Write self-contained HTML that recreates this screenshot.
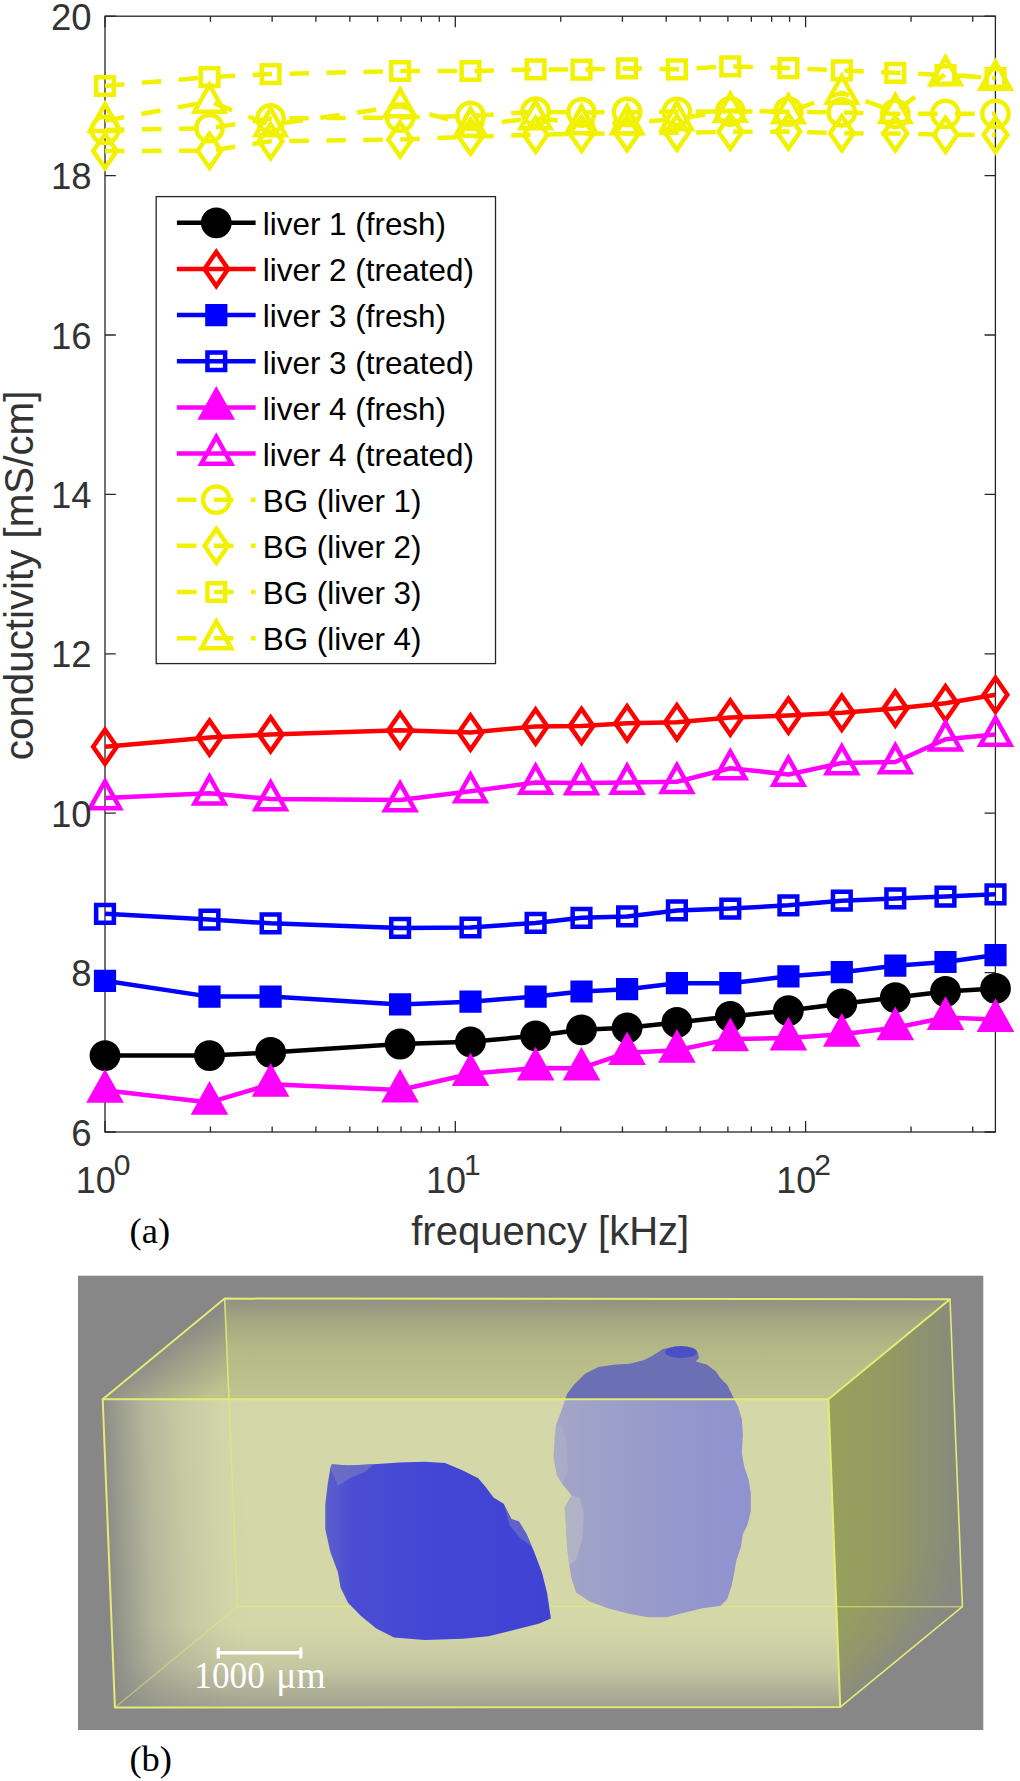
<!DOCTYPE html><html><head><meta charset="utf-8"><title>figure</title><style>html,body{margin:0;padding:0;background:#fff}svg{display:block}</style></head><body>
<svg width="1020" height="1781" viewBox="0 0 1020 1781">
<rect width="1020" height="1781" fill="#fff"/>
<g stroke="#262626" stroke-width="1.3" fill="none" stroke-linecap="square">
<rect x="105" y="16.2" width="890.4" height="1115.8"/>
<path d="M105,1132h10.8M995.4,1132h-10.8M105,972.6h10.8M995.4,972.6h-10.8M105,813.2h10.8M995.4,813.2h-10.8M105,653.8h10.8M995.4,653.8h-10.8M105,494.4h10.8M995.4,494.4h-10.8M105,335h10.8M995.4,335h-10.8M105,175.6h10.8M995.4,175.6h-10.8M105,16.2h10.8M995.4,16.2h-10.8M105,1132v-11M105,16.2v11M210.45,1132v-5.5M210.45,16.2v5.5M272.14,1132v-5.5M272.14,16.2v5.5M315.9,1132v-5.5M315.9,16.2v5.5M349.85,1132v-5.5M349.85,16.2v5.5M377.59,1132v-5.5M377.59,16.2v5.5M401.04,1132v-5.5M401.04,16.2v5.5M421.35,1132v-5.5M421.35,16.2v5.5M439.27,1132v-5.5M439.27,16.2v5.5M455.3,1132v-11M455.3,16.2v11M560.75,1132v-5.5M560.75,16.2v5.5M622.44,1132v-5.5M622.44,16.2v5.5M666.2,1132v-5.5M666.2,16.2v5.5M700.15,1132v-5.5M700.15,16.2v5.5M727.89,1132v-5.5M727.89,16.2v5.5M751.34,1132v-5.5M751.34,16.2v5.5M771.65,1132v-5.5M771.65,16.2v5.5M789.57,1132v-5.5M789.57,16.2v5.5M805.6,1132v-11M805.6,16.2v11M911.05,1132v-5.5M911.05,16.2v5.5M972.74,1132v-5.5M972.74,16.2v5.5" stroke-linecap="butt"/>
</g>
<g stroke="#000000" stroke-width="4.5">
<polyline points="105,1055.6 209.5,1055.6 270.6,1052.4 400.1,1044 470.5,1041.8 535.6,1035.8 581.5,1029.8 627.1,1027.8 676.9,1022.4 730.3,1016.5 788.4,1010.6 841.8,1003.8 895.3,997.6 945.5,991.5 995.5,988.4" fill="none" stroke-linejoin="round"/>
<g stroke-linejoin="miter"><circle cx="105" cy="1055.6" r="13.15" fill="#000000"/><circle cx="209.5" cy="1055.6" r="13.15" fill="#000000"/><circle cx="270.6" cy="1052.4" r="13.15" fill="#000000"/><circle cx="400.1" cy="1044" r="13.15" fill="#000000"/><circle cx="470.5" cy="1041.8" r="13.15" fill="#000000"/><circle cx="535.6" cy="1035.8" r="13.15" fill="#000000"/><circle cx="581.5" cy="1029.8" r="13.15" fill="#000000"/><circle cx="627.1" cy="1027.8" r="13.15" fill="#000000"/><circle cx="676.9" cy="1022.4" r="13.15" fill="#000000"/><circle cx="730.3" cy="1016.5" r="13.15" fill="#000000"/><circle cx="788.4" cy="1010.6" r="13.15" fill="#000000"/><circle cx="841.8" cy="1003.8" r="13.15" fill="#000000"/><circle cx="895.3" cy="997.6" r="13.15" fill="#000000"/><circle cx="945.5" cy="991.5" r="13.15" fill="#000000"/><circle cx="995.5" cy="988.4" r="13.15" fill="#000000"/></g>
</g>
<g stroke="#ff0000" stroke-width="4.5">
<polyline points="105,746.8 209.5,737.6 270.6,734.4 400.1,730.2 470.5,732.5 535.6,726.5 581.5,725.9 627.1,723.2 676.9,722.3 730.3,717.5 788.4,715.6 841.8,712.8 895.3,708.5 945.5,703.3 995.5,694.8" fill="none" stroke-linejoin="round"/>
<g stroke-linejoin="miter"><polygon points="105,729.8 116.8,746.8 105,763.8 93.2,746.8" fill="none"/><polygon points="209.5,720.6 221.3,737.6 209.5,754.6 197.7,737.6" fill="none"/><polygon points="270.6,717.4 282.4,734.4 270.6,751.4 258.8,734.4" fill="none"/><polygon points="400.1,713.2 411.9,730.2 400.1,747.2 388.3,730.2" fill="none"/><polygon points="470.5,715.5 482.3,732.5 470.5,749.5 458.7,732.5" fill="none"/><polygon points="535.6,709.5 547.4,726.5 535.6,743.5 523.8,726.5" fill="none"/><polygon points="581.5,708.9 593.3,725.9 581.5,742.9 569.7,725.9" fill="none"/><polygon points="627.1,706.2 638.9,723.2 627.1,740.2 615.3,723.2" fill="none"/><polygon points="676.9,705.3 688.7,722.3 676.9,739.3 665.1,722.3" fill="none"/><polygon points="730.3,700.5 742.1,717.5 730.3,734.5 718.5,717.5" fill="none"/><polygon points="788.4,698.6 800.2,715.6 788.4,732.6 776.6,715.6" fill="none"/><polygon points="841.8,695.8 853.6,712.8 841.8,729.8 830,712.8" fill="none"/><polygon points="895.3,691.5 907.1,708.5 895.3,725.5 883.5,708.5" fill="none"/><polygon points="945.5,686.3 957.3,703.3 945.5,720.3 933.7,703.3" fill="none"/><polygon points="995.5,677.8 1007.3,694.8 995.5,711.8 983.7,694.8" fill="none"/></g>
</g>
<g stroke="#0000ff" stroke-width="4.5">
<polyline points="105,980.8 209.5,996.6 270.6,996.6 400.1,1004.4 470.5,1001.7 535.6,996.6 581.5,991.5 627.1,989.2 676.9,983.2 730.3,983.2 788.4,976.3 841.8,972.2 895.3,965.7 945.5,962 995.5,955.1" fill="none" stroke-linejoin="round"/>
<g stroke-linejoin="miter"><polygon points="96.15,971.95 113.85,971.95 113.85,989.65 96.15,989.65" fill="#0000ff"/><polygon points="200.65,987.75 218.35,987.75 218.35,1005.45 200.65,1005.45" fill="#0000ff"/><polygon points="261.75,987.75 279.45,987.75 279.45,1005.45 261.75,1005.45" fill="#0000ff"/><polygon points="391.25,995.55 408.95,995.55 408.95,1013.25 391.25,1013.25" fill="#0000ff"/><polygon points="461.65,992.85 479.35,992.85 479.35,1010.55 461.65,1010.55" fill="#0000ff"/><polygon points="526.75,987.75 544.45,987.75 544.45,1005.45 526.75,1005.45" fill="#0000ff"/><polygon points="572.65,982.65 590.35,982.65 590.35,1000.35 572.65,1000.35" fill="#0000ff"/><polygon points="618.25,980.35 635.95,980.35 635.95,998.05 618.25,998.05" fill="#0000ff"/><polygon points="668.05,974.35 685.75,974.35 685.75,992.05 668.05,992.05" fill="#0000ff"/><polygon points="721.45,974.35 739.15,974.35 739.15,992.05 721.45,992.05" fill="#0000ff"/><polygon points="779.55,967.45 797.25,967.45 797.25,985.15 779.55,985.15" fill="#0000ff"/><polygon points="832.95,963.35 850.65,963.35 850.65,981.05 832.95,981.05" fill="#0000ff"/><polygon points="886.45,956.85 904.15,956.85 904.15,974.55 886.45,974.55" fill="#0000ff"/><polygon points="936.65,953.15 954.35,953.15 954.35,970.85 936.65,970.85" fill="#0000ff"/><polygon points="986.65,946.25 1004.35,946.25 1004.35,963.95 986.65,963.95" fill="#0000ff"/></g>
</g>
<g stroke="#0000ff" stroke-width="4.5">
<polyline points="105,913.8 209.5,919.6 270.6,923.3 400.1,927.9 470.5,927.5 535.6,922.9 581.5,917.8 627.1,916.4 676.9,910.4 730.3,908.6 788.4,905.3 841.8,900.7 895.3,898.4 945.5,896.6 995.5,894.3" fill="none" stroke-linejoin="round"/>
<g stroke-linejoin="miter"><polygon points="96.15,904.95 113.85,904.95 113.85,922.65 96.15,922.65" fill="none"/><polygon points="200.65,910.75 218.35,910.75 218.35,928.45 200.65,928.45" fill="none"/><polygon points="261.75,914.45 279.45,914.45 279.45,932.15 261.75,932.15" fill="none"/><polygon points="391.25,919.05 408.95,919.05 408.95,936.75 391.25,936.75" fill="none"/><polygon points="461.65,918.65 479.35,918.65 479.35,936.35 461.65,936.35" fill="none"/><polygon points="526.75,914.05 544.45,914.05 544.45,931.75 526.75,931.75" fill="none"/><polygon points="572.65,908.95 590.35,908.95 590.35,926.65 572.65,926.65" fill="none"/><polygon points="618.25,907.55 635.95,907.55 635.95,925.25 618.25,925.25" fill="none"/><polygon points="668.05,901.55 685.75,901.55 685.75,919.25 668.05,919.25" fill="none"/><polygon points="721.45,899.75 739.15,899.75 739.15,917.45 721.45,917.45" fill="none"/><polygon points="779.55,896.45 797.25,896.45 797.25,914.15 779.55,914.15" fill="none"/><polygon points="832.95,891.85 850.65,891.85 850.65,909.55 832.95,909.55" fill="none"/><polygon points="886.45,889.55 904.15,889.55 904.15,907.25 886.45,907.25" fill="none"/><polygon points="936.65,887.75 954.35,887.75 954.35,905.45 936.65,905.45" fill="none"/><polygon points="986.65,885.45 1004.35,885.45 1004.35,903.15 986.65,903.15" fill="none"/></g>
</g>
<g stroke="#ff00ff" stroke-width="4.5">
<polyline points="105,1090.3 209.5,1102.4 270.6,1084.3 400.1,1090 470.5,1073.7 535.6,1068 581.5,1068.2 627.1,1052.7 676.9,1050.3 730.3,1038.9 788.4,1038.1 841.8,1034.3 895.3,1027.8 945.5,1017.5 995.5,1019.5" fill="none" stroke-linejoin="round"/>
<g stroke-linejoin="miter"><polygon points="105,1073.6 120,1100.45 90,1100.45" fill="#ff00ff"/><polygon points="209.5,1085.7 224.5,1112.55 194.5,1112.55" fill="#ff00ff"/><polygon points="270.6,1067.6 285.6,1094.45 255.6,1094.45" fill="#ff00ff"/><polygon points="400.1,1073.3 415.1,1100.15 385.1,1100.15" fill="#ff00ff"/><polygon points="470.5,1057 485.5,1083.85 455.5,1083.85" fill="#ff00ff"/><polygon points="535.6,1051.3 550.6,1078.15 520.6,1078.15" fill="#ff00ff"/><polygon points="581.5,1051.5 596.5,1078.35 566.5,1078.35" fill="#ff00ff"/><polygon points="627.1,1036 642.1,1062.85 612.1,1062.85" fill="#ff00ff"/><polygon points="676.9,1033.6 691.9,1060.45 661.9,1060.45" fill="#ff00ff"/><polygon points="730.3,1022.2 745.3,1049.05 715.3,1049.05" fill="#ff00ff"/><polygon points="788.4,1021.4 803.4,1048.25 773.4,1048.25" fill="#ff00ff"/><polygon points="841.8,1017.6 856.8,1044.45 826.8,1044.45" fill="#ff00ff"/><polygon points="895.3,1011.1 910.3,1037.95 880.3,1037.95" fill="#ff00ff"/><polygon points="945.5,1000.8 960.5,1027.65 930.5,1027.65" fill="#ff00ff"/><polygon points="995.5,1002.8 1010.5,1029.65 980.5,1029.65" fill="#ff00ff"/></g>
</g>
<g stroke="#ff00ff" stroke-width="4.5">
<polyline points="105,798 209.5,793.3 270.6,799 400.1,800 470.5,791.2 535.6,782.6 581.5,783 627.1,782.5 676.9,781.8 730.3,768.2 788.4,774.5 841.8,763 895.3,762 945.5,739.3 995.5,734.5" fill="none" stroke-linejoin="round"/>
<g stroke-linejoin="miter"><polygon points="105,781.3 120,808.15 90,808.15" fill="none"/><polygon points="209.5,776.6 224.5,803.45 194.5,803.45" fill="none"/><polygon points="270.6,782.3 285.6,809.15 255.6,809.15" fill="none"/><polygon points="400.1,783.3 415.1,810.15 385.1,810.15" fill="none"/><polygon points="470.5,774.5 485.5,801.35 455.5,801.35" fill="none"/><polygon points="535.6,765.9 550.6,792.75 520.6,792.75" fill="none"/><polygon points="581.5,766.3 596.5,793.15 566.5,793.15" fill="none"/><polygon points="627.1,765.8 642.1,792.65 612.1,792.65" fill="none"/><polygon points="676.9,765.1 691.9,791.95 661.9,791.95" fill="none"/><polygon points="730.3,751.5 745.3,778.35 715.3,778.35" fill="none"/><polygon points="788.4,757.8 803.4,784.65 773.4,784.65" fill="none"/><polygon points="841.8,746.3 856.8,773.15 826.8,773.15" fill="none"/><polygon points="895.3,745.3 910.3,772.15 880.3,772.15" fill="none"/><polygon points="945.5,722.6 960.5,749.45 930.5,749.45" fill="none"/><polygon points="995.5,717.8 1010.5,744.65 980.5,744.65" fill="none"/></g>
</g>
<g stroke="#f2f200" stroke-width="4.5">
<polyline points="105,129.9 209.5,128.2 270.6,118.5 400.1,117.5 470.5,115.9 535.6,111.7 581.5,112.5 627.1,112 676.9,111.8 730.3,111.5 788.4,111.7 841.8,112.4 895.3,113.8 945.5,113.8 995.5,113.8" fill="none" stroke-linejoin="round" stroke-dasharray="19.5 17.5"/>
<g stroke-linejoin="miter"><circle cx="105" cy="129.9" r="13.15" fill="none"/><circle cx="209.5" cy="128.2" r="13.15" fill="none"/><circle cx="270.6" cy="118.5" r="13.15" fill="none"/><circle cx="400.1" cy="117.5" r="13.15" fill="none"/><circle cx="470.5" cy="115.9" r="13.15" fill="none"/><circle cx="535.6" cy="111.7" r="13.15" fill="none"/><circle cx="581.5" cy="112.5" r="13.15" fill="none"/><circle cx="627.1" cy="112" r="13.15" fill="none"/><circle cx="676.9" cy="111.8" r="13.15" fill="none"/><circle cx="730.3" cy="111.5" r="13.15" fill="none"/><circle cx="788.4" cy="111.7" r="13.15" fill="none"/><circle cx="841.8" cy="112.4" r="13.15" fill="none"/><circle cx="895.3" cy="113.8" r="13.15" fill="none"/><circle cx="945.5" cy="113.8" r="13.15" fill="none"/><circle cx="995.5" cy="113.8" r="13.15" fill="none"/></g>
</g>
<g stroke="#f2f200" stroke-width="4.5">
<polyline points="105,151 209.5,150.7 270.6,141.3 400.1,139.5 470.5,136.7 535.6,134.8 581.5,133.8 627.1,133.4 676.9,132.8 730.3,131.8 788.4,131.6 841.8,133.3 895.3,133.5 945.5,134.8 995.5,134.8" fill="none" stroke-linejoin="round" stroke-dasharray="19.5 17.5"/>
<g stroke-linejoin="miter"><polygon points="105,134 116.8,151 105,168 93.2,151" fill="none"/><polygon points="209.5,133.7 221.3,150.7 209.5,167.7 197.7,150.7" fill="none"/><polygon points="270.6,124.3 282.4,141.3 270.6,158.3 258.8,141.3" fill="none"/><polygon points="400.1,122.5 411.9,139.5 400.1,156.5 388.3,139.5" fill="none"/><polygon points="470.5,119.7 482.3,136.7 470.5,153.7 458.7,136.7" fill="none"/><polygon points="535.6,117.8 547.4,134.8 535.6,151.8 523.8,134.8" fill="none"/><polygon points="581.5,116.8 593.3,133.8 581.5,150.8 569.7,133.8" fill="none"/><polygon points="627.1,116.4 638.9,133.4 627.1,150.4 615.3,133.4" fill="none"/><polygon points="676.9,115.8 688.7,132.8 676.9,149.8 665.1,132.8" fill="none"/><polygon points="730.3,114.8 742.1,131.8 730.3,148.8 718.5,131.8" fill="none"/><polygon points="788.4,114.6 800.2,131.6 788.4,148.6 776.6,131.6" fill="none"/><polygon points="841.8,116.3 853.6,133.3 841.8,150.3 830,133.3" fill="none"/><polygon points="895.3,116.5 907.1,133.5 895.3,150.5 883.5,133.5" fill="none"/><polygon points="945.5,117.8 957.3,134.8 945.5,151.8 933.7,134.8" fill="none"/><polygon points="995.5,117.8 1007.3,134.8 995.5,151.8 983.7,134.8" fill="none"/></g>
</g>
<g stroke="#f2f200" stroke-width="4.5">
<polyline points="105,86 209.5,77 270.6,74.1 400.1,71 470.5,71 535.6,69.4 581.5,69.6 627.1,68.3 676.9,69.3 730.3,66.3 788.4,68.1 841.8,70.4 895.3,72.8 945.5,75 995.5,78" fill="none" stroke-linejoin="round" stroke-dasharray="19.5 17.5"/>
<g stroke-linejoin="miter"><polygon points="96.15,77.15 113.85,77.15 113.85,94.85 96.15,94.85" fill="none"/><polygon points="200.65,68.15 218.35,68.15 218.35,85.85 200.65,85.85" fill="none"/><polygon points="261.75,65.25 279.45,65.25 279.45,82.95 261.75,82.95" fill="none"/><polygon points="391.25,62.15 408.95,62.15 408.95,79.85 391.25,79.85" fill="none"/><polygon points="461.65,62.15 479.35,62.15 479.35,79.85 461.65,79.85" fill="none"/><polygon points="526.75,60.55 544.45,60.55 544.45,78.25 526.75,78.25" fill="none"/><polygon points="572.65,60.75 590.35,60.75 590.35,78.45 572.65,78.45" fill="none"/><polygon points="618.25,59.45 635.95,59.45 635.95,77.15 618.25,77.15" fill="none"/><polygon points="668.05,60.45 685.75,60.45 685.75,78.15 668.05,78.15" fill="none"/><polygon points="721.45,57.45 739.15,57.45 739.15,75.15 721.45,75.15" fill="none"/><polygon points="779.55,59.25 797.25,59.25 797.25,76.95 779.55,76.95" fill="none"/><polygon points="832.95,61.55 850.65,61.55 850.65,79.25 832.95,79.25" fill="none"/><polygon points="886.45,63.95 904.15,63.95 904.15,81.65 886.45,81.65" fill="none"/><polygon points="936.65,66.15 954.35,66.15 954.35,83.85 936.65,83.85" fill="none"/><polygon points="986.65,69.15 1004.35,69.15 1004.35,86.85 986.65,86.85" fill="none"/></g>
</g>
<g stroke="#f2f200" stroke-width="4.5">
<polyline points="105,120.8 209.5,101.5 270.6,125 400.1,106.2 470.5,125.5 535.6,118 581.5,123 627.1,123 676.9,119 730.3,110.5 788.4,112 841.8,92.7 895.3,111.8 945.5,74 995.5,78.7" fill="none" stroke-linejoin="round" stroke-dasharray="19.5 17.5"/>
<g stroke-linejoin="miter"><polygon points="105,104.1 120,130.95 90,130.95" fill="none"/><polygon points="209.5,84.8 224.5,111.65 194.5,111.65" fill="none"/><polygon points="270.6,108.3 285.6,135.15 255.6,135.15" fill="none"/><polygon points="400.1,89.5 415.1,116.35 385.1,116.35" fill="none"/><polygon points="470.5,108.8 485.5,135.65 455.5,135.65" fill="none"/><polygon points="535.6,101.3 550.6,128.15 520.6,128.15" fill="none"/><polygon points="581.5,106.3 596.5,133.15 566.5,133.15" fill="none"/><polygon points="627.1,106.3 642.1,133.15 612.1,133.15" fill="none"/><polygon points="676.9,102.3 691.9,129.15 661.9,129.15" fill="none"/><polygon points="730.3,93.8 745.3,120.65 715.3,120.65" fill="none"/><polygon points="788.4,95.3 803.4,122.15 773.4,122.15" fill="none"/><polygon points="841.8,76 856.8,102.85 826.8,102.85" fill="none"/><polygon points="895.3,95.1 910.3,121.95 880.3,121.95" fill="none"/><polygon points="945.5,57.3 960.5,84.15 930.5,84.15" fill="none"/><polygon points="995.5,62 1010.5,88.85 980.5,88.85" fill="none"/></g>
</g>
<g font-family="Liberation Sans, Arial, Helvetica, sans-serif" fill="#333333">
<g font-size="36.5" text-anchor="end">
<text x="91.5" y="1145.5">6</text>
<text x="91.5" y="986.1">8</text>
<text x="91.5" y="826.7">10</text>
<text x="91.5" y="667.3">12</text>
<text x="91.5" y="507.9">14</text>
<text x="91.5" y="348.5">16</text>
<text x="91.5" y="189.1">18</text>
<text x="91.5" y="29.7">20</text>
</g>
<text x="103" y="1192.8" font-size="36" text-anchor="middle">10<tspan font-size="30" dx="-2" dy="-17.5">0</tspan></text>
<text x="453.3" y="1192.8" font-size="36" text-anchor="middle">10<tspan font-size="30" dx="-2" dy="-17.5">1</tspan></text>
<text x="803.6" y="1192.8" font-size="36" text-anchor="middle">10<tspan font-size="30" dx="-2" dy="-17.5">2</tspan></text>
<text x="550.2" y="1245" font-size="40" text-anchor="middle">frequency [kHz]</text>
<text transform="translate(33 575.4) rotate(-90)" font-size="40.3" text-anchor="middle">conductivity [mS/cm]</text>
</g>
<rect x="156.2" y="196.6" width="339.3" height="467" fill="#fff" stroke="#262626" stroke-width="1.3"/>
<g stroke="#000000" stroke-width="4.5"><line x1="176.9" y1="222.8" x2="255.6" y2="222.8"/><g stroke-linejoin="miter"><circle cx="216.3" cy="222.8" r="13.15" fill="#000000"/></g></g>
<text x="262.8" y="235.1" font-family="Liberation Sans, Arial, sans-serif" font-size="31.4" fill="#000">liver 1 (fresh)</text>
<g stroke="#ff0000" stroke-width="4.5"><line x1="176.9" y1="268.95" x2="255.6" y2="268.95"/><g stroke-linejoin="miter"><polygon points="216.3,251.95 228.1,268.95 216.3,285.95 204.5,268.95" fill="none"/></g></g>
<text x="262.8" y="281.25" font-family="Liberation Sans, Arial, sans-serif" font-size="31.4" fill="#000">liver 2 (treated)</text>
<g stroke="#0000ff" stroke-width="4.5"><line x1="176.9" y1="315.1" x2="255.6" y2="315.1"/><g stroke-linejoin="miter"><polygon points="207.45,306.25 225.15,306.25 225.15,323.95 207.45,323.95" fill="#0000ff"/></g></g>
<text x="262.8" y="327.4" font-family="Liberation Sans, Arial, sans-serif" font-size="31.4" fill="#000">liver 3 (fresh)</text>
<g stroke="#0000ff" stroke-width="4.5"><line x1="176.9" y1="361.25" x2="255.6" y2="361.25"/><g stroke-linejoin="miter"><polygon points="207.45,352.4 225.15,352.4 225.15,370.1 207.45,370.1" fill="none"/></g></g>
<text x="262.8" y="373.55" font-family="Liberation Sans, Arial, sans-serif" font-size="31.4" fill="#000">liver 3 (treated)</text>
<g stroke="#ff00ff" stroke-width="4.5"><line x1="176.9" y1="407.4" x2="255.6" y2="407.4"/><g stroke-linejoin="miter"><polygon points="216.3,390.7 231.3,417.55 201.3,417.55" fill="#ff00ff"/></g></g>
<text x="262.8" y="419.7" font-family="Liberation Sans, Arial, sans-serif" font-size="31.4" fill="#000">liver 4 (fresh)</text>
<g stroke="#ff00ff" stroke-width="4.5"><line x1="176.9" y1="453.55" x2="255.6" y2="453.55"/><g stroke-linejoin="miter"><polygon points="216.3,436.85 231.3,463.7 201.3,463.7" fill="none"/></g></g>
<text x="262.8" y="465.85" font-family="Liberation Sans, Arial, sans-serif" font-size="31.4" fill="#000">liver 4 (treated)</text>
<g stroke="#f2f200" stroke-width="4.5"><line x1="176.9" y1="499.7" x2="255.6" y2="499.7" stroke-dasharray="19.5 17.5"/><g stroke-linejoin="miter"><circle cx="216.3" cy="499.7" r="13.15" fill="none"/></g></g>
<text x="262.8" y="512" font-family="Liberation Sans, Arial, sans-serif" font-size="31.4" fill="#000">BG (liver 1)</text>
<g stroke="#f2f200" stroke-width="4.5"><line x1="176.9" y1="545.85" x2="255.6" y2="545.85" stroke-dasharray="19.5 17.5"/><g stroke-linejoin="miter"><polygon points="216.3,528.85 228.1,545.85 216.3,562.85 204.5,545.85" fill="none"/></g></g>
<text x="262.8" y="558.15" font-family="Liberation Sans, Arial, sans-serif" font-size="31.4" fill="#000">BG (liver 2)</text>
<g stroke="#f2f200" stroke-width="4.5"><line x1="176.9" y1="592" x2="255.6" y2="592" stroke-dasharray="19.5 17.5"/><g stroke-linejoin="miter"><polygon points="207.45,583.15 225.15,583.15 225.15,600.85 207.45,600.85" fill="none"/></g></g>
<text x="262.8" y="604.3" font-family="Liberation Sans, Arial, sans-serif" font-size="31.4" fill="#000">BG (liver 3)</text>
<g stroke="#f2f200" stroke-width="4.5"><line x1="176.9" y1="638.15" x2="255.6" y2="638.15" stroke-dasharray="19.5 17.5"/><g stroke-linejoin="miter"><polygon points="216.3,621.45 231.3,648.3 201.3,648.3" fill="none"/></g></g>
<text x="262.8" y="650.45" font-family="Liberation Sans, Arial, sans-serif" font-size="31.4" fill="#000">BG (liver 4)</text>
<text x="129.6" y="1242.8" font-family="Liberation Serif, Times New Roman, serif" font-size="36.5" fill="#000">(a)</text>
<text x="129.4" y="1770.6" font-family="Liberation Serif, Times New Roman, serif" font-size="36.5" fill="#000">(b)</text>
<defs>
<linearGradient id="gTop" x1="0" y1="1299" x2="0" y2="1399" gradientUnits="userSpaceOnUse"><stop offset="0" stop-color="#8f9184"/><stop offset="0.2" stop-color="#a3a680"/><stop offset="0.5" stop-color="#b5b987"/><stop offset="1" stop-color="#c0c490"/></linearGradient>
<linearGradient id="gTopL" x1="163.7" y1="1348.9" x2="205" y2="1399" gradientUnits="userSpaceOnUse"><stop offset="0" stop-color="#878787" stop-opacity="0.85"/><stop offset="0.5" stop-color="#878787" stop-opacity="0.4"/><stop offset="1" stop-color="#878787" stop-opacity="0"/></linearGradient>
<linearGradient id="gFrontL" x1="108.8" y1="1553.4" x2="248.7" y2="1547.9" gradientUnits="userSpaceOnUse"><stop offset="0" stop-color="#8c8d87"/><stop offset="0.12" stop-color="#9d9f8f"/><stop offset="0.3" stop-color="#b4b79b"/><stop offset="0.55" stop-color="#c6c9a2"/><stop offset="0.8" stop-color="#d0d4a8"/><stop offset="1" stop-color="#d4d8a8"/></linearGradient>
<linearGradient id="gFrontB" x1="0" y1="1625" x2="0" y2="1707" gradientUnits="userSpaceOnUse"><stop offset="0" stop-color="#8a8a86" stop-opacity="0"/><stop offset="0.5" stop-color="#8a8a86" stop-opacity="0.2"/><stop offset="1" stop-color="#8a8a86" stop-opacity="0.7"/></linearGradient>
<linearGradient id="gRight" x1="830" y1="0" x2="962" y2="0" gradientUnits="userSpaceOnUse"><stop offset="0" stop-color="#98a05c"/><stop offset="0.45" stop-color="#939a63"/><stop offset="0.8" stop-color="#8b8f74"/><stop offset="1" stop-color="#86887e"/></linearGradient>
<linearGradient id="gRightV" x1="0" y1="1299" x2="0" y2="1707" gradientUnits="userSpaceOnUse"><stop offset="0" stop-color="#878787" stop-opacity="0.35"/><stop offset="0.15" stop-color="#878787" stop-opacity="0"/></linearGradient>
<linearGradient id="gRBd" x1="901.3" y1="1656.9" x2="856.9" y2="1602.8" gradientUnits="userSpaceOnUse"><stop offset="0" stop-color="#878787" stop-opacity="0.8"/><stop offset="0.45" stop-color="#878787" stop-opacity="0.3"/><stop offset="1" stop-color="#878787" stop-opacity="0"/></linearGradient>
</defs>
<rect x="78" y="1275.7" width="905.3" height="454.3" fill="#878787"/>
<polygon points="224.7,1298.6 950.0,1299.2 828.4,1399.2 102.7,1399.2" fill="url(#gTop)"/>
<polygon points="224.7,1298.6 229.1,1399.2 102.7,1399.2" fill="url(#gTopL)"/>
<polygon points="102.7,1399.2 828.4,1399.2 840.2,1707.1 114.9,1707.5" fill="#d4d8a8"/>
<polygon points="102.7,1399.2 252.0,1399.2 264.0,1707.3 114.9,1707.5" fill="url(#gFrontL)"/>
<polygon points="102.7,1399.2 828.4,1399.2 840.2,1707.1 114.9,1707.5" fill="url(#gFrontB)"/>
<polygon points="828.4,1399.2 950.0,1299.2 962.4,1606.7 840.2,1707.1" fill="url(#gRight)"/>
<polygon points="828.4,1399.2 950.0,1299.2 962.4,1606.7 840.2,1707.1" fill="url(#gRBd)"/>
<g fill="none" stroke="#e2ec74" stroke-linejoin="round">
<polyline points="224.7,1298.6 237.5,1606.5 962.4,1606.7" stroke-opacity="0.6" stroke-width="1.4"/>
<line x1="224.7" y1="1298.6" x2="229.1" y2="1399.2" stroke-opacity="0.6" stroke-width="1.6"/>
<line x1="237.5" y1="1606.5" x2="114.9" y2="1707.5" stroke-opacity="0.5" stroke-width="1.4"/>
</g>
<defs><clipPath id="cTop"><rect x="500" y="1290" width="300" height="109.2"/></clipPath>
<linearGradient id="gRB" x1="555" y1="0" x2="750" y2="0" gradientUnits="userSpaceOnUse"><stop offset="0" stop-color="#a3a6c6"/><stop offset="0.5" stop-color="#979acb"/><stop offset="1" stop-color="#8f92cf"/></linearGradient>
</defs>
<path d="M662.9,1349.0 L675.3,1346.8 L688.8,1347.9 L697.8,1352.4 L699.0,1358.0 L695.6,1361.4 L706.9,1364.8 L715.9,1371.6 L720.4,1378.3 L727.1,1385.1 L732.8,1396.4 L738.4,1407.6 L741.8,1418.9 L742.9,1434.7 L741.8,1452.7 L744.1,1466.3 L748.6,1479.8 L750.8,1493.3 L750.8,1511.4 L747.4,1524.9 L742.9,1533.9 L740.7,1547.4 L736.2,1561.0 L733.9,1574.5 L731.7,1585.8 L727.1,1599.3 L720.4,1606.1 L702.3,1608.3 L684.3,1612.8 L666.3,1617.3 L648.2,1617.3 L630.2,1614.0 L607.6,1608.3 L589.6,1601.6 L576.1,1592.5 L571.6,1579.0 L569.3,1565.5 L567.1,1547.4 L565.9,1524.9 L564.8,1506.9 L571.6,1495.6 L562.5,1484.3 L556.9,1475.3 L553.5,1457.2 L554.7,1439.2 L555.8,1425.7 L562.5,1407.6 L567.1,1394.1 L573.8,1385.1 L585.1,1373.8 L598.6,1367.1 L614.4,1364.8 L630.2,1363.7 L643.7,1360.3 L652.7,1355.8Z" fill="url(#gRB)"/>
<path d="M662.9,1349.0 L675.3,1346.8 L688.8,1347.9 L697.8,1352.4 L699.0,1358.0 L695.6,1361.4 L706.9,1364.8 L715.9,1371.6 L720.4,1378.3 L727.1,1385.1 L732.8,1396.4 L738.4,1407.6 L741.8,1418.9 L742.9,1434.7 L741.8,1452.7 L744.1,1466.3 L748.6,1479.8 L750.8,1493.3 L750.8,1511.4 L747.4,1524.9 L742.9,1533.9 L740.7,1547.4 L736.2,1561.0 L733.9,1574.5 L731.7,1585.8 L727.1,1599.3 L720.4,1606.1 L702.3,1608.3 L684.3,1612.8 L666.3,1617.3 L648.2,1617.3 L630.2,1614.0 L607.6,1608.3 L589.6,1601.6 L576.1,1592.5 L571.6,1579.0 L569.3,1565.5 L567.1,1547.4 L565.9,1524.9 L564.8,1506.9 L571.6,1495.6 L562.5,1484.3 L556.9,1475.3 L553.5,1457.2 L554.7,1439.2 L555.8,1425.7 L562.5,1407.6 L567.1,1394.1 L573.8,1385.1 L585.1,1373.8 L598.6,1367.1 L614.4,1364.8 L630.2,1363.7 L643.7,1360.3 L652.7,1355.8Z" fill="#6b6fb4" clip-path="url(#cTop)"/>
<ellipse cx="681" cy="1352" rx="16" ry="6" fill="#4a50c4"/>
<path d="M571.6,1495.6 L564.8,1506.9 L565.9,1524.9 L567.1,1547.4 L569.3,1565.5 L576,1560 L582,1540 L584,1515 L580,1498Z" fill="#c4c7c4" fill-opacity="0.45"/>
<path d="M555.8,1425.7 L554.7,1439.2 L553.5,1457.2 L556.9,1475.3 L562.5,1484.3 L568,1470 L566,1440 L562,1425Z" fill="#b8bbc6" fill-opacity="0.35"/>
<linearGradient id="gLB" x1="325" y1="0" x2="551" y2="0" gradientUnits="userSpaceOnUse"><stop offset="0" stop-color="#5d60cc"/><stop offset="0.12" stop-color="#4a4dd2"/><stop offset="0.5" stop-color="#4346d5"/><stop offset="1" stop-color="#3f42d2"/></linearGradient>
<path d="M331.7,1464.2 L348.2,1465.5 L373.7,1464.2 L399.2,1462.4 L424.7,1461.7 L445.1,1462.9 L462.9,1470.6 L478.2,1478.2 L485.9,1487.2 L493.5,1497.4 L503.7,1503.7 L508.8,1513.9 L511.4,1519.0 L519.0,1521.6 L526.7,1534.3 L534.3,1552.2 L542.0,1572.5 L547.1,1593.0 L550.9,1618.4 L539.4,1623.5 L513.9,1629.9 L488.4,1636.3 L462.9,1638.8 L424.7,1640.1 L394.1,1637.6 L376.3,1628.6 L361.0,1615.9 L348.2,1603.1 L340.6,1587.8 L338.0,1572.5 L330.4,1552.2 L325.3,1529.2 L325.3,1503.7 L327.8,1483.3 L330.4,1468.0Z" fill="url(#gLB)"/>
<path d="M331.7,1464.2 L348.2,1465.5 L373.7,1464.2 L365,1472 L350,1478 L338,1486 L330.4,1468Z" fill="#7478c2" fill-opacity="0.7"/>
<path d="M503.7,1503.7 L508.8,1513.9 L511.4,1519 L519,1521.6 L526.7,1534.3 L531,1546 L520,1538 L510,1526Z" fill="#7478c2" fill-opacity="0.6"/>
<g fill="none" stroke="#e2ec74" stroke-width="1.6" stroke-linejoin="round">
<polygon points="224.7,1298.6 950.0,1299.2 828.4,1399.2 102.7,1399.2" stroke-width="2"/>
<polyline points="102.7,1399.2 114.9,1707.5 840.2,1707.1 828.4,1399.2" stroke-width="2"/>
<polyline points="950.0,1299.2 962.4,1606.7 840.2,1707.1"/>
</g>
<g stroke="#fff" fill="none"><path d="M216.8,1652.7H302.3" stroke-width="3.6"/><path d="M218.3,1647.5v11M300.8,1647.5v11" stroke-width="3.2"/></g>
<g font-family="Liberation Serif, Times New Roman, serif" font-size="37.5" fill="#fff"><text transform="translate(194.3 1688) scale(0.94 1)">1000</text><text transform="translate(276.3 1688)">μm</text></g>
</svg></body></html>
